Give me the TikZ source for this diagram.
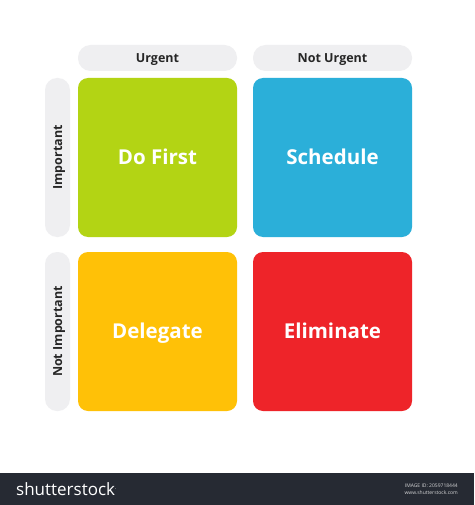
\documentclass[tikz,border=0pt]{standalone}
\usepackage{fontspec}
\setmainfont{Open Sans}
\definecolor{qgreen}{HTML}{B3D414}
\definecolor{qblue}{HTML}{2BAFD9}
\definecolor{qyellow}{HTML}{FFC107}
\definecolor{qred}{HTML}{EE2429}
\definecolor{lblbg}{HTML}{EFEFF1}
\definecolor{lbltext}{HTML}{262626}
\definecolor{barbg}{HTML}{262A33}
\begin{document}
\begin{tikzpicture}[x=1pt,y=-1pt,
  quad/.style={draw=none,rounded corners=10pt,minimum width=159pt,minimum height=159pt,inner sep=0pt,text=white,text height=14.5pt,text depth=0pt,font=\bfseries\fontsize{20.5}{24}\selectfont},
  hdr/.style={draw=none,rounded corners=12.5pt,minimum width=159pt,minimum height=26pt,inner sep=0pt,fill=lblbg,text=lbltext,text height=9pt,text depth=0pt,font=\bfseries\fontsize{12.5}{15}\selectfont},
  side/.style={draw=none,rounded corners=12pt,minimum width=159pt,minimum height=25pt,inner sep=0pt,fill=lblbg,text=lbltext,text height=9pt,text depth=0pt,font=\bfseries\fontsize{12.5}{15}\selectfont,rotate=90}]
\useasboundingbox (0,0) rectangle (474,505);
\fill[white] (0,0) rectangle (474,505);
\node[hdr] (hu) at (157.5,58) {Urgent};
\node[hdr] (hn) at (332.5,58) {Not Urgent};
\node[side] (si) at (57.5,157.5) {Important};
\node[side] (sn) at (57.5,331.5) {Not Important};
\node[quad,fill=qgreen] (q1) at (157.5,157.5) {Do First};
\node[quad,fill=qblue] (q2) at (332.5,157.5) {Schedule};
\node[quad,fill=qyellow] (q3) at (157.5,331.5) {Delegate};
\node[quad,fill=qred] (q4) at (332.5,331.5) {Eliminate};
\fill[barbg] (0,473) rectangle (474,505);
\node[text=white,anchor=west,inner sep=0pt,font=\fontsize{17}{19}\selectfont] (logo) at (16,489) {shutterstock\textsuperscript{\tiny .}};
\node[text=white!80!barbg,anchor=east,inner sep=0pt,font=\fontsize{5}{6}\selectfont,align=right] (imgid) at (458,489) {IMAGE ID: 2059718444\\[1pt]www.shutterstock.com};
\end{tikzpicture}
\end{document}
